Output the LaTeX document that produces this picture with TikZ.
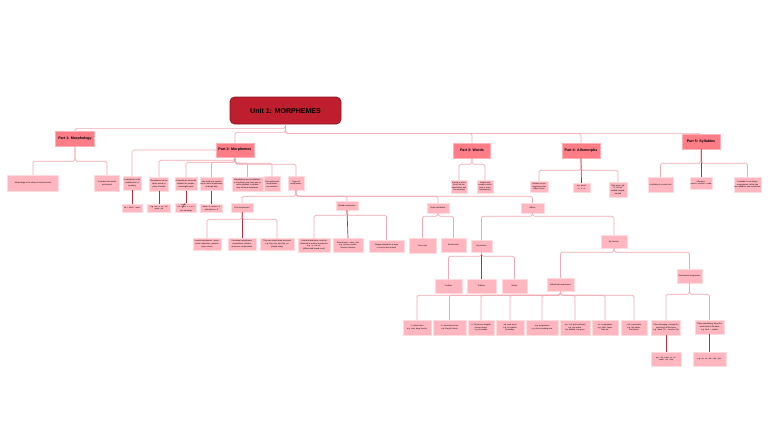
\documentclass[tikz,border=0pt]{standalone}
\usepackage{fontspec}
\setmainfont{Liberation Sans}
\usepackage{tikz}
\usetikzlibrary{arrows.meta,positioning,calc}
\definecolor{rootRed}{RGB}{190,30,45}
\definecolor{rootEdge}{RGB}{140,20,30}
\definecolor{partPink}{RGB}{255,125,135}
\definecolor{leafPink}{RGB}{255,182,190}
\definecolor{linkPink}{RGB}{240,170,178}
\definecolor{linkRed}{RGB}{195,40,55}
\tikzset{
  rootbox/.style={fill=rootRed,draw=rootEdge,line width=0.6pt,rounded corners=4pt,
    minimum width=111*0.3mm,minimum height=27*0.3mm,font=\fontsize{6}{7}\selectfont\bfseries},
  partbox/.style={fill=partPink,draw=partPink!60!white,line width=0.3pt,inner sep=0pt,
    font=\fontsize{3.1}{4}\selectfont\bfseries},
  leaf/.style={fill=leafPink,draw=leafPink!50!white,line width=0.3pt,inner sep=0.4pt,
    align=center,font=\fontsize{1.7}{2.2}\selectfont},
  sz/.style 2 args={minimum width=#1*0.3mm,minimum height=#2*0.3mm},
  link/.style={draw=linkPink,line width=0.55pt,rounded corners=1.5pt},
  strong/.style={draw=linkRed,line width=0.6pt},
}

\begin{document}
\begin{tikzpicture}[x=0.3mm,y=-0.3mm]
  % page
  \fill[white] (0,0) rectangle (768,431);
  \useasboundingbox (0,0) rectangle (768,431);
  % root and parts
  \node[rootbox] (root) at (285.5,110.5) {Unit 1: MORPHEMES};
  \node[partbox,sz={39}{15}] (p1) at (75,138.5) {Part 1: Morphology};
  \node[partbox,sz={38}{14}] (p2) at (235,150) {Part 2: Morphemes};
  \node[partbox,sz={37}{15}] (p3) at (472,150.5) {Part 3: Words};
  \node[partbox,sz={38}{15}] (p4) at (581,150.5) {Part 4: Allomorphs};
  \node[partbox,sz={38}{15}] (p5) at (701,141.5) {Part 5: Syllables};
  \draw[link] (root.south) -- ++(0,4) -| (p1.north);
  \draw[link] (root.south) -- ++(0,8) -| (p2.north);
  \foreach \p in {p3,p4,p5}
    \draw[link] (root.south) -- ++(0,9) -| (\p.north);

  % part 1
  \node[leaf,sz={51}{16}] (m1) at (33,183) {Morphology is the study of word structure};
  \node[leaf,sz={25}{16}] (m2) at (107,183) {It studies how words\\are formed};
  \draw[link] (p1.south) -- ++(0,15) -| (m1.north);
  \draw[link] (p1.south) -- ++(0,15) -| (m2.north);

  % part 2, first row
  \node[leaf,sz={16}{14}] (c1) at (132,183) {A morpheme is the\\smallest unit of\\meaning};
  \node[leaf,sz={19}{14}] (c2) at (159,184) {Morphemes can be\\whole words or\\parts of words};
  \node[leaf,sz={22}{13}] (c3) at (186,184) {A morpheme cannot be\\divided into smaller\\meaningful parts};
  \node[leaf,sz={23}{13}] (c4) at (211.5,184) {One word may contain\\one or more morphemes:\\un-break-able};
  \node[leaf,sz={31}{14}] (c5) at (247.5,184) {Morphemes are not syllables:\\a morpheme may have one or\\more syllables; a syllable\\may not be a morpheme};
  \node[leaf,sz={16}{15}] (c6) at (272,184) {Free and bound\\morphemes\\can combine};
  \node[leaf,sz={16}{14}] (c7) at (296,183) {Types of\\morphemes};
  \draw[link] (p2.west) -| (c1.north);
  \draw[link] (p2.south) -- ++(0,3) -| (c2.north);
  \draw[link] (p2.south) -- ++(0,5) -| (c3.north);
  \draw[link] (p2.south) -- ++(0,5) -| (c4.north);
  \draw[link] (p2.south) -- ++(0,6) -| (c5.north);
  \draw[link] (p2.south) -- ++(0,6) -| (c6.north);
  \draw[link] (p2.south) -- ++(0,7) -| (c7.north);
  % part 2, second row
  \node[leaf,sz={20}{8}] (d1) at (132,208) {un- + kind + -ness};
  \node[leaf,sz={23}{8}] (d2) at (159,208) {e.g. cat, -s, re-, -ful\\book, -ed};
  \node[leaf,sz={21}{8}] (d3) at (186,208) {cat $\neq$ c + a + t\\(no meaning)};
  \node[leaf,sz={22}{8}] (d4) at (211.5,208) {book = 1, books = 2\\unkindness = 3};
  \foreach \a/\b in {c1/d1,c2/d2,c3/d3,c4/d4}
    \draw[strong] (\a.south) -- (\b.north);

  % types of morphemes
  \node[leaf,sz={22}{9}] (fr) at (242,207.5) {Free morphemes};
  \node[leaf,sz={22}{9}] (bd) at (347,205.5) {Bound morphemes};
  \node[leaf,sz={22}{10}] (rt) at (438,208) {Roots and bases};
  \node[leaf,sz={23}{10}] (af) at (532.5,208) {Affixes};
  \foreach \n in {fr,bd,rt,af}
    \draw[link] (c7.south) -- ++(0,6) -| (\n.north);

  % free morphemes
  \node[leaf,sz={28}{12}] (fr1) at (207,244) {Lexical morphemes: nouns,\\verbs, adjectives, adverbs\\(open class)};
  \node[leaf,sz={28}{12}] (fr2) at (242,244) {Functional morphemes:\\prepositions, articles,\\pronouns, conjunctions};
  \node[leaf,sz={34}{12}] (fr3) at (277,244) {They can stand alone as words\\e.g. boy, tree, and, the, on\\(closed class)};
  \draw[link] (fr.south) -- ++(0,7) -| (fr1.north);
  \draw[strong] (fr.south) -- (fr2.north);
  \draw[link] (fr.south) -- ++(0,7) -| (fr3.north);
  % bound morphemes
  \node[leaf,sz={32}{14}] (bd1) at (314,245) {Cannot stand alone; must be\\attached to another morpheme\\e.g. -s, -ed, un-\\(affixes and bound roots)};
  \node[leaf,sz={30}{14}] (bd2) at (348,245) {Bound roots: -ceive, -mit\\e.g. receive, permit,\\transmit, deceive};
  \node[leaf,sz={35}{12}] (bd3) at (386.5,246) {Always attached to a base\\or root to form a word};
  \draw[link] (bd.south) -- ++(0,5) -| (bd1.north);
  \draw[strong] (bd.south) -- (bd2.north);
  \draw[link] (bd.south) -- ++(0,5) -| (bd3.north);
  % roots
  \node[leaf,sz={27}{15}] (rt1) at (422.5,245.5) {Free roots};
  \node[leaf,sz={25}{14}] (rt2) at (453.5,245) {Bound roots};
  \draw[link] (rt.south) -- ++(0,3) -| (rt1.north);
  \draw[link] (rt.south) -- ++(0,3) -| (rt2.north);

  % affixes
  \node[leaf,sz={21}{12}] (pos) at (481.5,246) {By position};
  \node[leaf,sz={26}{13}] (fun) at (614,241.5) {By function};
  \draw[link] (af.south) -- ++(0,3) -| (pos.north);
  \draw[link] (af.south) -- ++(0,3) -| (fun.north);
  \node[leaf,sz={27}{14}] (e1) at (448.5,286) {Prefixes};
  \node[leaf,sz={29}{14}] (e2) at (481.5,286) {Suffixes};
  \node[leaf,sz={25}{14}] (e3) at (514.5,286) {Infixes};
  \draw[link] (pos.south) -- ++(0,4) -| (e1.north);
  \draw[strong] (pos.south) -- (e2.north);
  \draw[link] (pos.south) -- ++(0,4) -| (e3.north);
  \node[leaf,sz={27}{13}] (infl) at (560.5,284.5) {Inflectional morphemes};
  \node[leaf,sz={25}{14}] (deri) at (689.5,276) {Derivational morphemes};
  \draw[link] (fun.south) -- ++(0,4) -| (infl.north);
  \draw[link] (fun.south) -- ++(0,4) -| (deri.north);

  % inflectional morphemes
  \foreach \n/\x/\w/\t in {
      g1/417/28/{-s: plural noun\\e.g. cats, dogs, books},
      g2/449.5/33/{-'s: possessive noun\\e.g. the girl's book},
      g3/481/26/{-s: 3rd person singular\\present tense\\e.g. she walks},
      g4/510/28/{-ed: past tense\\e.g. he walked\\yesterday},
      g5/542/32/{-ing: progressive\\e.g. she is reading now},
      g6/575/30/{-en / -ed: past participle\\e.g. has eaten,\\has walked, has gone},
      g7/605/26/{-er: comparative\\e.g. taller, faster\\than me},
      g8/634/26/{-est: superlative\\e.g. the tallest,\\the fastest}} {
    \node[leaf,sz={\w}{15}] (\n) at (\x,327.5) {\t};
    \draw[link] (infl.south) -- ++(0,4) -| (\n.north);
  }
  % derivational morphemes
  \node[leaf,sz={29}{15}] (h1) at (666,327.5) {Class-changing: change the\\word class of the base\\e.g. teach (V) → teacher (N)};
  \node[leaf,sz={29}{14}] (h2) at (709.5,327) {Class-maintaining: keep the\\word class of the base\\e.g. kind → unkind};
  \draw[link] (deri.south) -- ++(0,11) -| (h1.north);
  \draw[link] (deri.south) -- ++(0,11) -| (h2.north);
  \node[leaf,sz={30}{14}] (i1) at (666,359) {e.g. -ful, -ness, -ly, -er,\\-ment, -ize, -tion};
  \node[leaf,sz={33}{14}] (i2) at (709.5,359) {e.g. un-, re-, dis-, mis-, pre-};
  \draw[strong] (h1.south) -- (i1.north);
  \draw[strong] (h2.south) -- (i2.north);

  % part 3
  \node[leaf,sz={16}{13}] (w1) at (459,186.5) {A word is a free\\form that can\\stand alone and\\has meaning};
  \node[leaf,sz={16}{13}] (w2) at (485,186.5) {Simple and\\complex words\\(one or more\\morphemes)};
  \draw[link] (p3.south) -- ++(0,6) -| (w1.north);
  \draw[link] (p3.south) -- ++(0,6) -| (w2.north);

  % part 4
  \node[leaf,sz={18}{11}] (al1) at (539,186.5) {Variants of one\\morpheme that\\differ in form};
  \node[leaf,sz={17}{9}] (al2) at (581.5,187.5) {e.g. plural\\-s, -z, -iz};
  \node[leaf,sz={18}{15}] (al3) at (618,189.5) {Past tense -ed:\\/t/, /d/, /id/\\walked, played,\\wanted};
  \draw[link] (p4.south) -- ++(0,12) -| (al1.north);
  \draw[strong] (p4.south) -- (al2.north);
  \draw[link] (p4.south) -- ++(0,12) -| (al3.north);

  % part 5
  \node[leaf,sz={25}{15}] (s1) at (660.5,184.5) {A syllable is a sound unit};
  \node[leaf,sz={22}{12}] (s2) at (701,183) {Structure:\\onset + nucleus + coda};
  \node[leaf,sz={25}{15}] (s3) at (747.5,184.5) {A syllable is not always\\a morpheme: ta-ble has\\two syllables, one morpheme};
  \draw[link] (p5.south) -- ++(0,14) -| (s1.north);
  \draw[strong] (p5.south) -- (s2.north);
  \draw[link] (p5.south) -- ++(0,14) -| (s3.north);
\end{tikzpicture}
\end{document}
